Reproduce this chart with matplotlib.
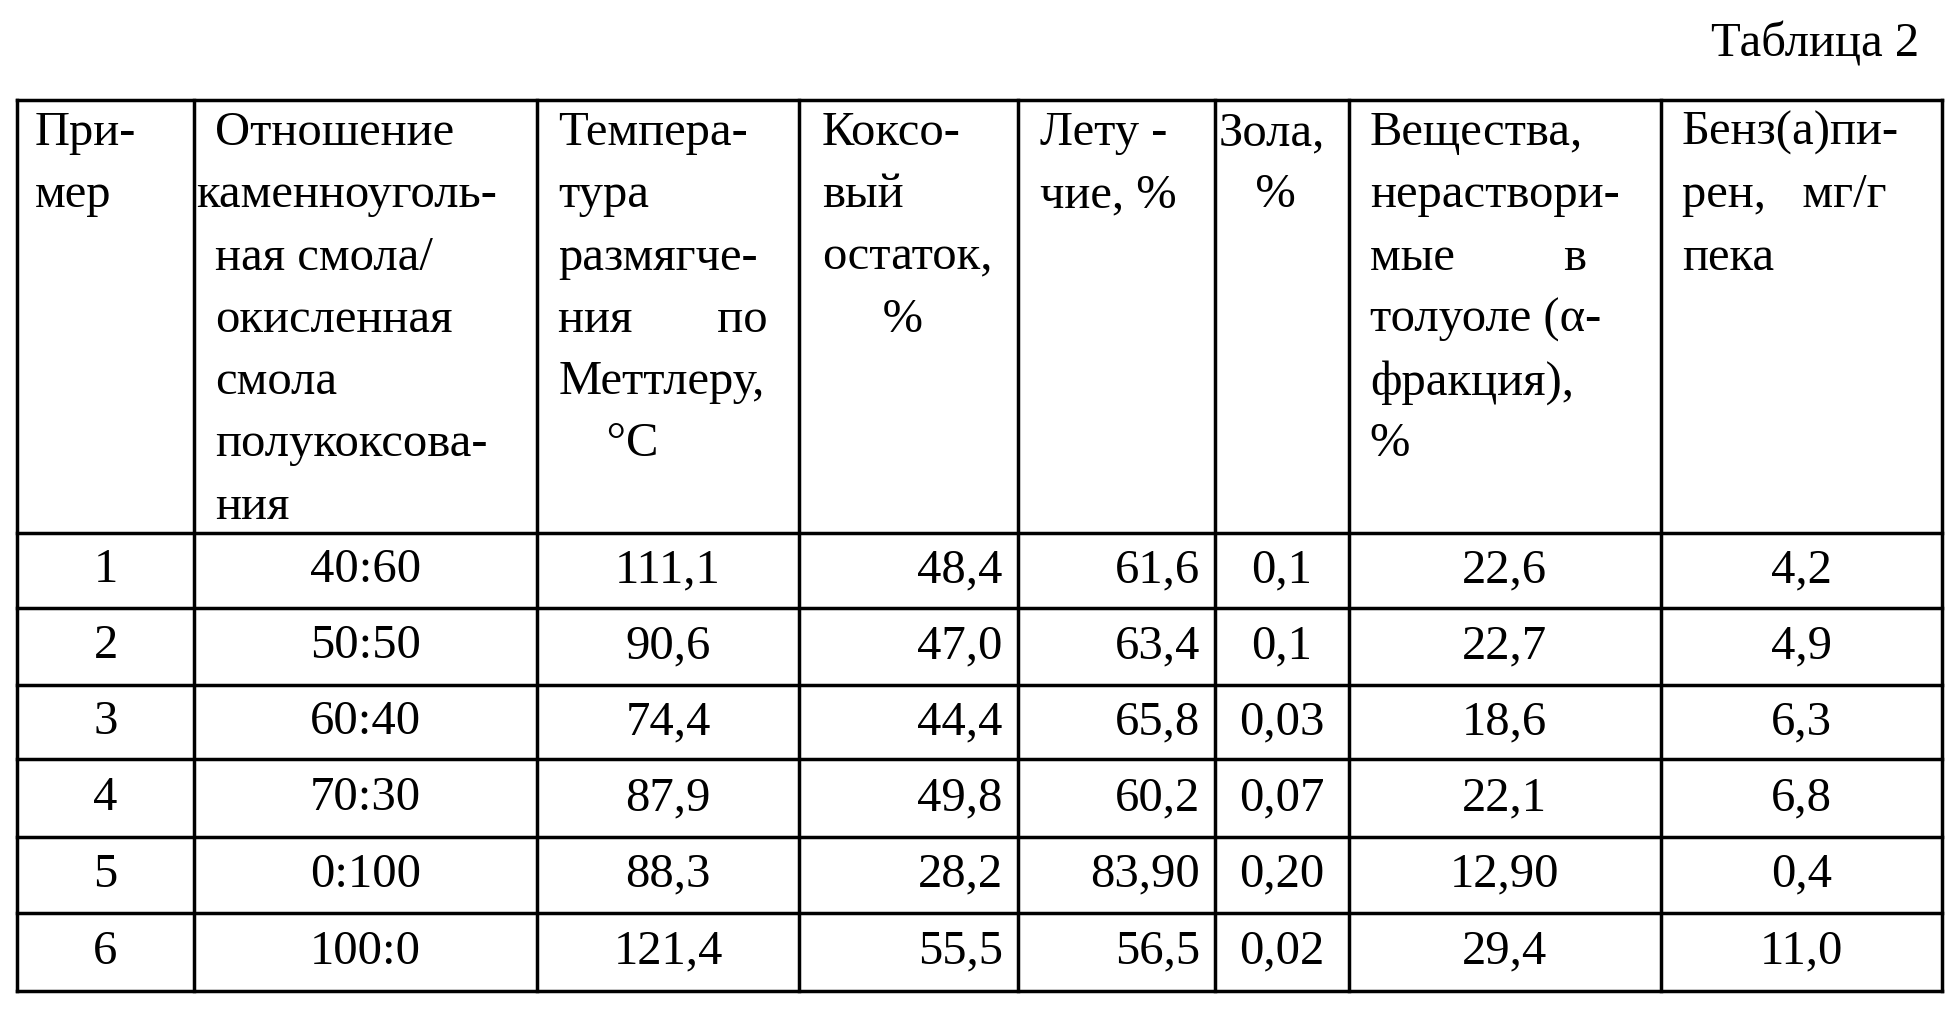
import matplotlib.pyplot as plt

# table contents
title = "Таблица 2"
headers = [
    ["При-", "мер"],
    ["Отношение", "каменноуголь-", "ная смола/", "окисленная", "смола", "полукоксова-", "ния"],
    ["Темпера-", "тура", "размягче-", "ния       по", "Меттлеру,", "    °C"],
    ["Коксо-", "вый", "остаток,", "     %"],
    ["Лету -", "чие, %"],
    ["Зола,", "   %"],
    ["Вещества,", "нераствори-", "мые         в", "толуоле (α-", "фракция),", "%"],
    ["Бенз(а)пи-", "рен,   мг/г", "пека"],
]
rows = [
    ["1", "40:60", "111,1", "48,4", "61,6", "0,1", "22,6", "4,2"],
    ["2", "50:50", "90,6", "47,0", "63,4", "0,1", "22,7", "4,9"],
    ["3", "60:40", "74,4", "44,4", "65,8", "0,03", "18,6", "6,3"],
    ["4", "70:30", "87,9", "49,8", "60,2", "0,07", "22,1", "6,8"],
    ["5", "0:100", "88,3", "28,2", "83,90", "0,20", "12,90", "0,4"],
    ["6", "100:0", "121,4", "55,5", "56,5", "0,02", "29,4", "11,0"],
]

# layout (in reference pixel units, 1560 x 812)
col_x = [14, 155, 430, 640, 815, 973, 1080, 1330, 1555]
row_y = [80, 428, 488, 550, 610, 672, 733, 796]
head_x = [28, 157, 447, 658, 833, 976, 1097, 1347]
first_indent = {1: 172}
align = ["center", "center", "center", "right", "right", "center", "center", "center"]

plt.rcParams['font.family'] = ['Liberation Serif', 'DejaVu Serif']
fig = plt.figure(figsize=(19.48, 10.11), dpi=100)
ax = fig.add_axes([0, 0, 1, 1])
ax.set_xlim(0, 1560)
ax.set_ylim(812, 0)
ax.axis('off')

fs = 35
ax.text(1537, 35, title, ha='right', va='center', fontsize=fs)

for x in col_x:
    ax.plot([x, x], [row_y[0], row_y[-1]], color='black', lw=2.5)
for y in row_y:
    ax.plot([col_x[0], col_x[-1]], [y, y], color='black', lw=2.5)

for c, lines in enumerate(headers):
    for i, line in enumerate(lines):
        x = head_x[c]
        if c == 1 and i != 1:
            x = first_indent[1]
        ax.text(x, 107 + 50 * i, line, ha='left', va='center', fontsize=fs)

for r, vals in enumerate(rows):
    yc = (row_y[r + 1] + row_y[r + 2]) / 2
    for c, v in enumerate(vals):
        if align[c] == "right":
            x = col_x[c + 1] - 12
        else:
            x = (col_x[c] + col_x[c + 1]) / 2
        ax.text(x, yc, v, ha=align[c], va='center', fontsize=fs)

fig.savefig('out.png', dpi=100, facecolor='white')
